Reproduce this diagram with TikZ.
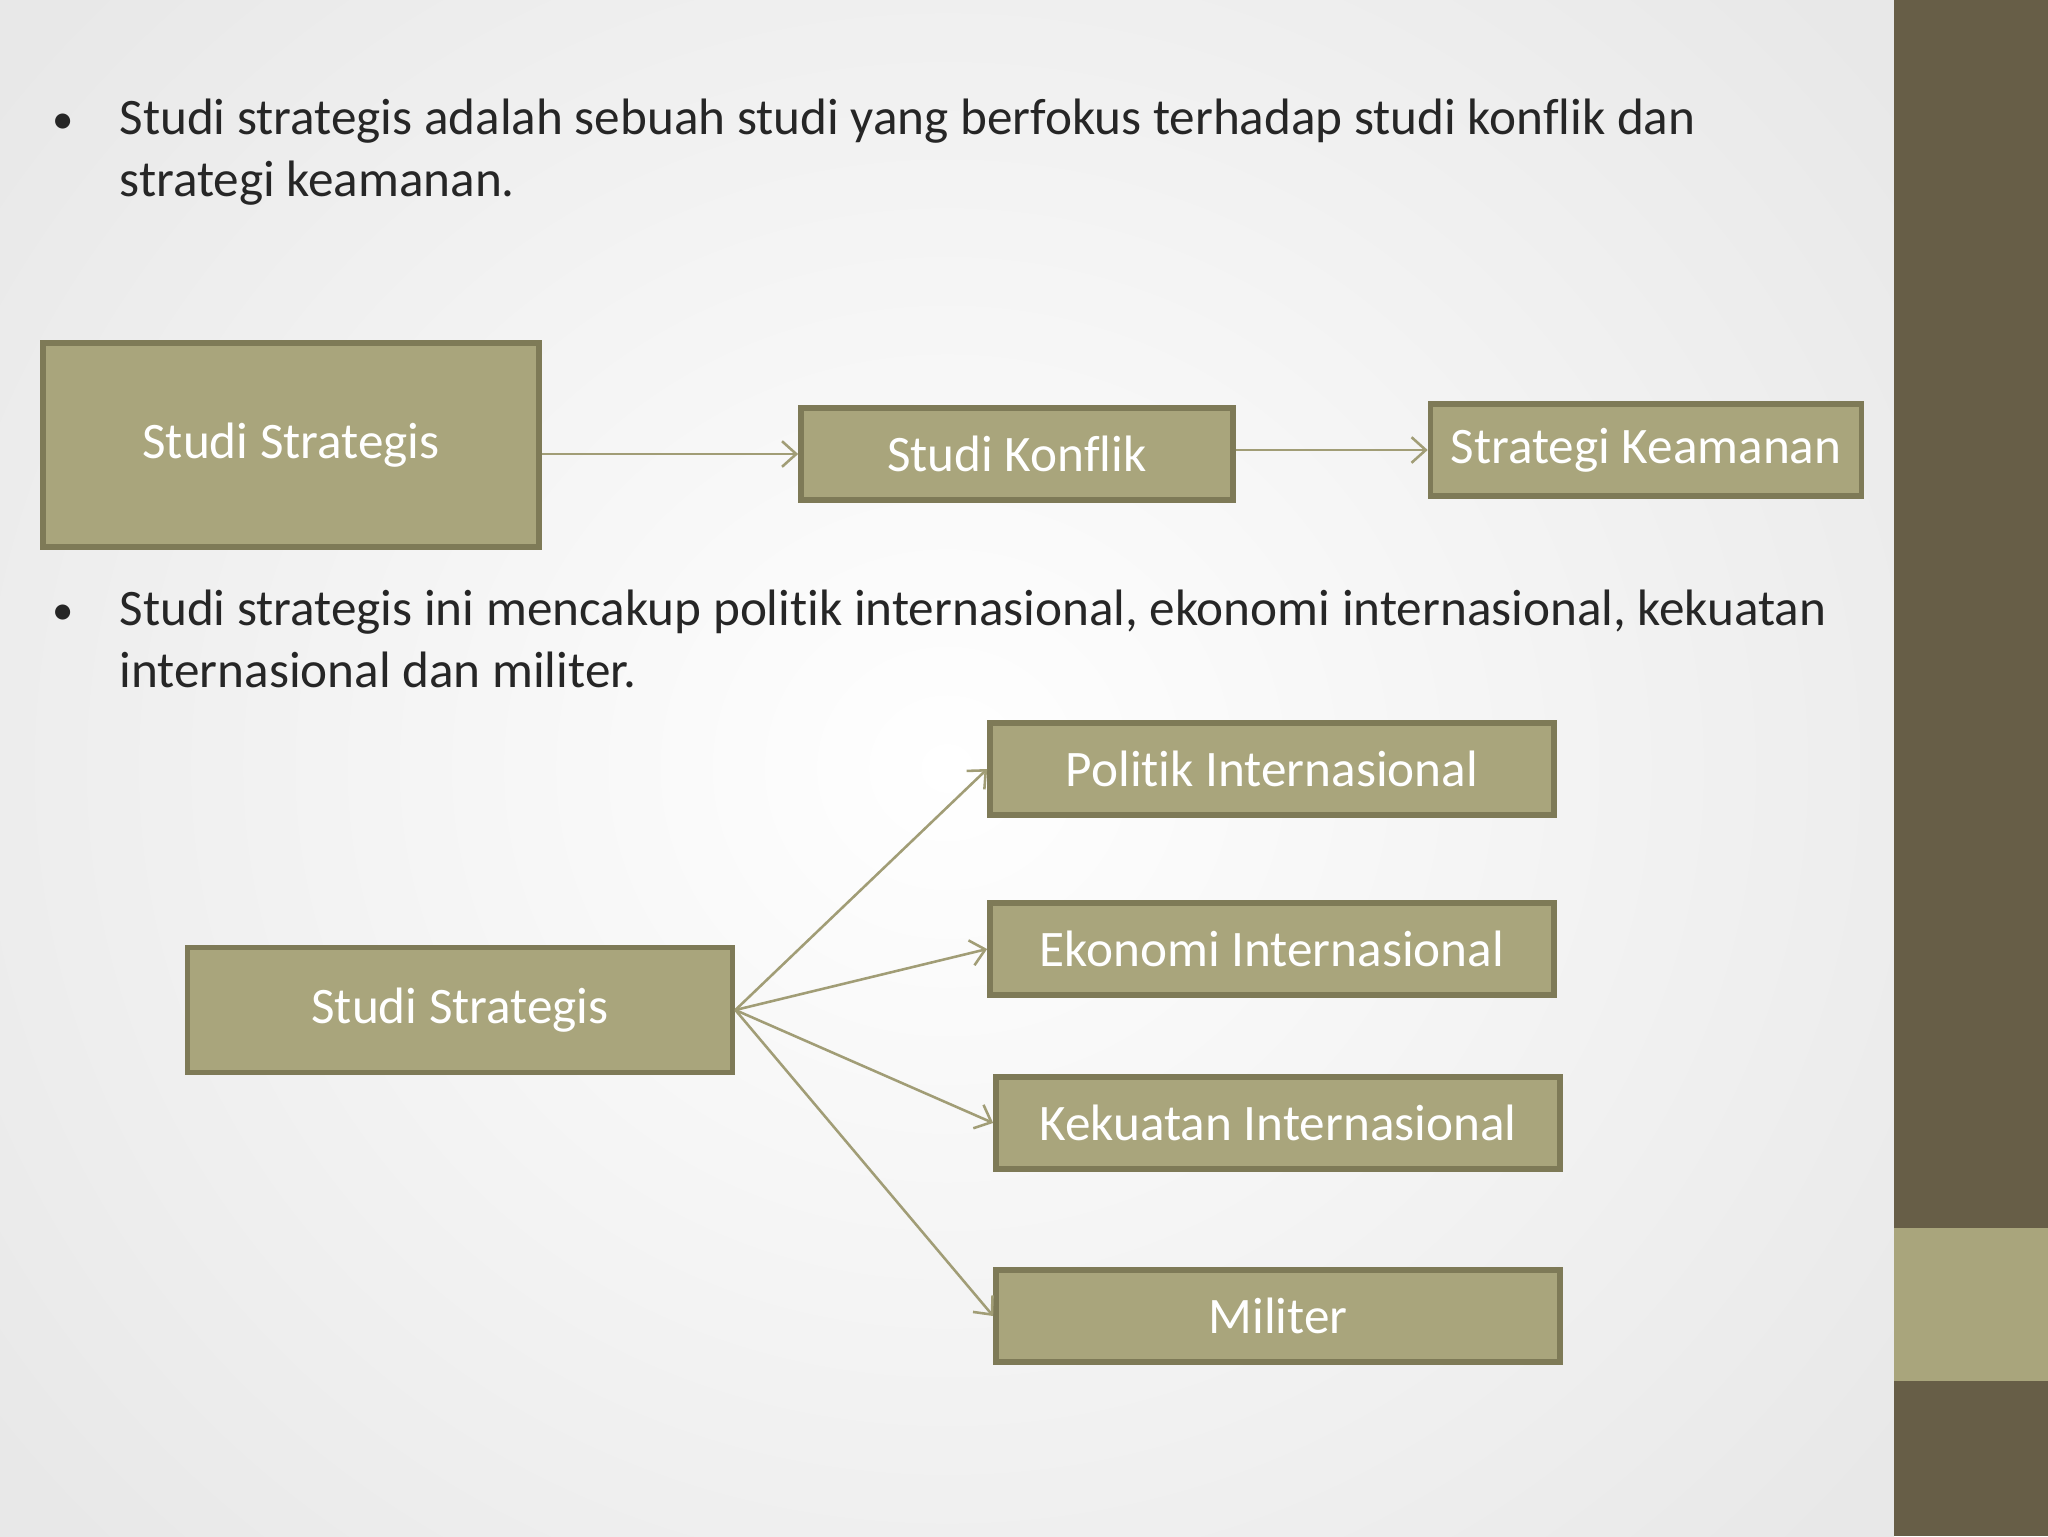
\documentclass[tikz,border=0pt]{standalone}
\usepackage{fontspec}
\setmainfont{Carlito}[Ligatures=CommonOff]
\usetikzlibrary{arrows.meta}
\definecolor{zaitun}{HTML}{A9A57C}
\definecolor{zaitungelap}{HTML}{7E7A57}
\definecolor{coklat}{HTML}{675E47}
\definecolor{teks}{HTML}{262626}

\begin{document}
\begin{tikzpicture}[x=0.3516pt,y=-0.3516pt,
  kotak/.style={fill=zaitun,draw=zaitungelap,line width=2pt,text=white,
    font=\fontsize{18}{22}\selectfont,inner sep=0pt},
  ukuran/.style 2 args={minimum width=#1*0.3516pt,minimum height=#2*0.3516pt},
  panah/.style={draw=zaitun!95!black,line width=0.9pt,-{Straight Barb[length=5pt,width=9pt]}},
  butir/.style={text=teks,font=\fontsize{18}{21.6}\selectfont,inner sep=0pt,align=left}]
\useasboundingbox (0,0) rectangle (2048,1536);
\begin{scope}
\clip (0,0) rectangle (1894,1536);
\shade[inner color=white,outer color=black!9] (-250,-350) rectangle (2144,1886);
\end{scope}
\fill[coklat] (1894,0) rectangle (2048,1536);
\fill[zaitun] (1894,1228) rectangle (2048,1381);

% poin pertama
\node[butir,anchor=base,font=\fontsize{15}{18}\selectfont] (b1) at (63,133) {•};
\node[butir,anchor=base west] (t1) at (119,196) {Studi strategis adalah sebuah studi yang berfokus terhadap studi konflik dan\\strategi keamanan.};

\node[kotak,ukuran={496}{204}] (SS)  at (291,445)  {Studi Strategis};
\node[kotak,ukuran={432}{92}]  (SK)  at (1017,454) {Studi Konflik};
\node[kotak,ukuran={431}{92}]  (KA)  at (1646,450) {Strategi Keamanan};
\draw[panah] (SS.east |- SK.west) -- (SK.west);
\draw[panah] (SK.east |- KA.west) -- (KA.west);

% poin kedua
\node[butir,anchor=base,font=\fontsize{15}{18}\selectfont] (b2) at (63,624) {•};
\node[butir,anchor=base west] (t2) at (119,687) {Studi strategis ini mencakup politik internasional, ekonomi internasional, kekuatan\\internasional dan militer.};

\node[kotak,ukuran={545}{125}] (S2) at (460,1010)  {Studi Strategis};
\node[kotak,ukuran={564}{92}]  (PI) at (1272,769)  {Politik Internasional};
\node[kotak,ukuran={564}{92}]  (EI) at (1272,949)  {Ekonomi Internasional};
\node[kotak,ukuran={564}{92}]  (KI) at (1278,1123) {Kekuatan Internasional};
\node[kotak,ukuran={564}{92}]  (ML) at (1278,1316) {Militer};
\draw[panah] (S2.east) -- (PI.west);
\draw[panah] (S2.east) -- (EI.west);
\draw[panah] (S2.east) -- (KI.west);
\draw[panah] (S2.east) -- (ML.west);
\end{tikzpicture}
\end{document}
